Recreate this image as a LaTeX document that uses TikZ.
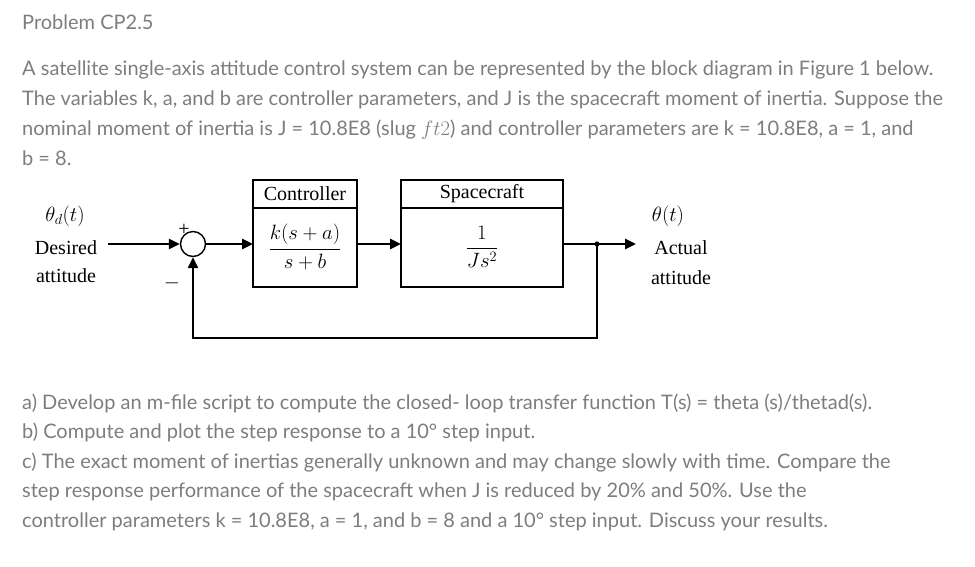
\documentclass[tikz,border=0pt]{standalone}
\usepackage{fontspec}
\setmainfont{Lato}
\newfontfamily\dfont{Liberation Serif}
\usetikzlibrary{arrows.meta}
\definecolor{txt}{RGB}{125,125,125}
\begin{document}
\begin{tikzpicture}[x=1pt,y=-1pt,
  para/.style={anchor=west,inner sep=0,text=txt,font=\fontsize{20}{22}\selectfont},
  blk/.style={draw,line width=1.4pt,inner sep=0},
  dtext/.style={font=\dfont\fontsize{20}{22}\selectfont,inner sep=0},
  arr/.style={line width=2.6pt,-{Triangle[length=11pt,width=10pt]}}]
\useasboundingbox (0,0) rectangle (975,566);
\node[para] (t0) at (22,22) {Problem CP2.5};
\node[para] (t1) at (22,70) {A satellite single-axis attitude control system can be represented by the block diagram in Figure 1 below.};
\node[para] (t2) at (22,100) {The variables k, a, and b are controller parameters, and J is the spacecraft moment of inertia. Suppose the};
\node[para] (t3) at (22,130) {nominal moment of inertia is J = 10.8E8 (slug $ft2$) and controller parameters are k = 10.8E8, a = 1, and};
\node[para] (t4) at (22,158) {b = 8.};
\node[para] (b1) at (22,403) {a) Develop an m-file script to compute the closed- loop transfer function T(s) = theta (s)/thetad(s).};
\node[para] (b2) at (22,432) {b) Compute and plot the step response to a 10° step input.};
\node[para] (b3) at (22,463) {c) The exact moment of inertias generally unknown and may change slowly with time. Compare the};
\node[para] (b4) at (22,492) {step response performance of the spacecraft when J is reduced by 20\% and 50\%. Use the};
\node[para] (b5) at (22,522) {controller parameters k = 10.8E8, a = 1, and b = 8 and a 10° step input. Discuss your results.};
% blocks
\draw[blk] (253,180) rectangle (357,287);
\draw[blk] (253,208) -- (357,208);
\coordinate (cW) at (253,244); \coordinate (cE) at (357,244);
\draw[blk] (401,180) rectangle (563,287);
\draw[blk] (401,208) -- (563,208);
\coordinate (sW) at (401,244); \coordinate (sE) at (563,244);
\node[dtext] (ch) at (305,194) {Controller};
\node[dtext] (sh) at (482,194) {Spacecraft};
\node[dtext] (cf) at (305,247) {$\displaystyle\frac{k(s+a)}{s+b}$};
\node[dtext] (sf) at (482,247) {$\displaystyle\frac{1}{Js^2}$};
\node[draw,circle,line width=1.4pt,minimum size=25pt,inner sep=0] (sum) at (193,244) {};
\coordinate (in) at (108,244);
\coordinate (out) at (636,244);
\coordinate (j) at (597,244);
\fill (j) circle (2.6pt);
\coordinate (fb1) at (597,338);
\coordinate (fb2) at (193,338);
\draw[arr] (in) -- (sum.west);
\draw[arr] (sum.east) -- (cW);
\draw[arr] (cE) -- (sW);
\draw[arr] (sE) -- (out);
\draw[arr] (j) -- (fb1) -- (fb2) -- (sum.south);
\node[dtext] (pl) at (184,230) {+};
\node[dtext] (mi) at (172,283) {$-$};
\node[dtext] (thd) at (65,216) {$\theta_d(t)$};
\node[dtext] (des) at (66,248) {Desired};
\node[dtext] (att1) at (66,276) {attitude};
\node[dtext] (th) at (668,216) {$\theta(t)$};
\node[dtext] (act) at (681,248) {Actual};
\node[dtext] (att2) at (681,278) {attitude};
\end{tikzpicture}
\end{document}
